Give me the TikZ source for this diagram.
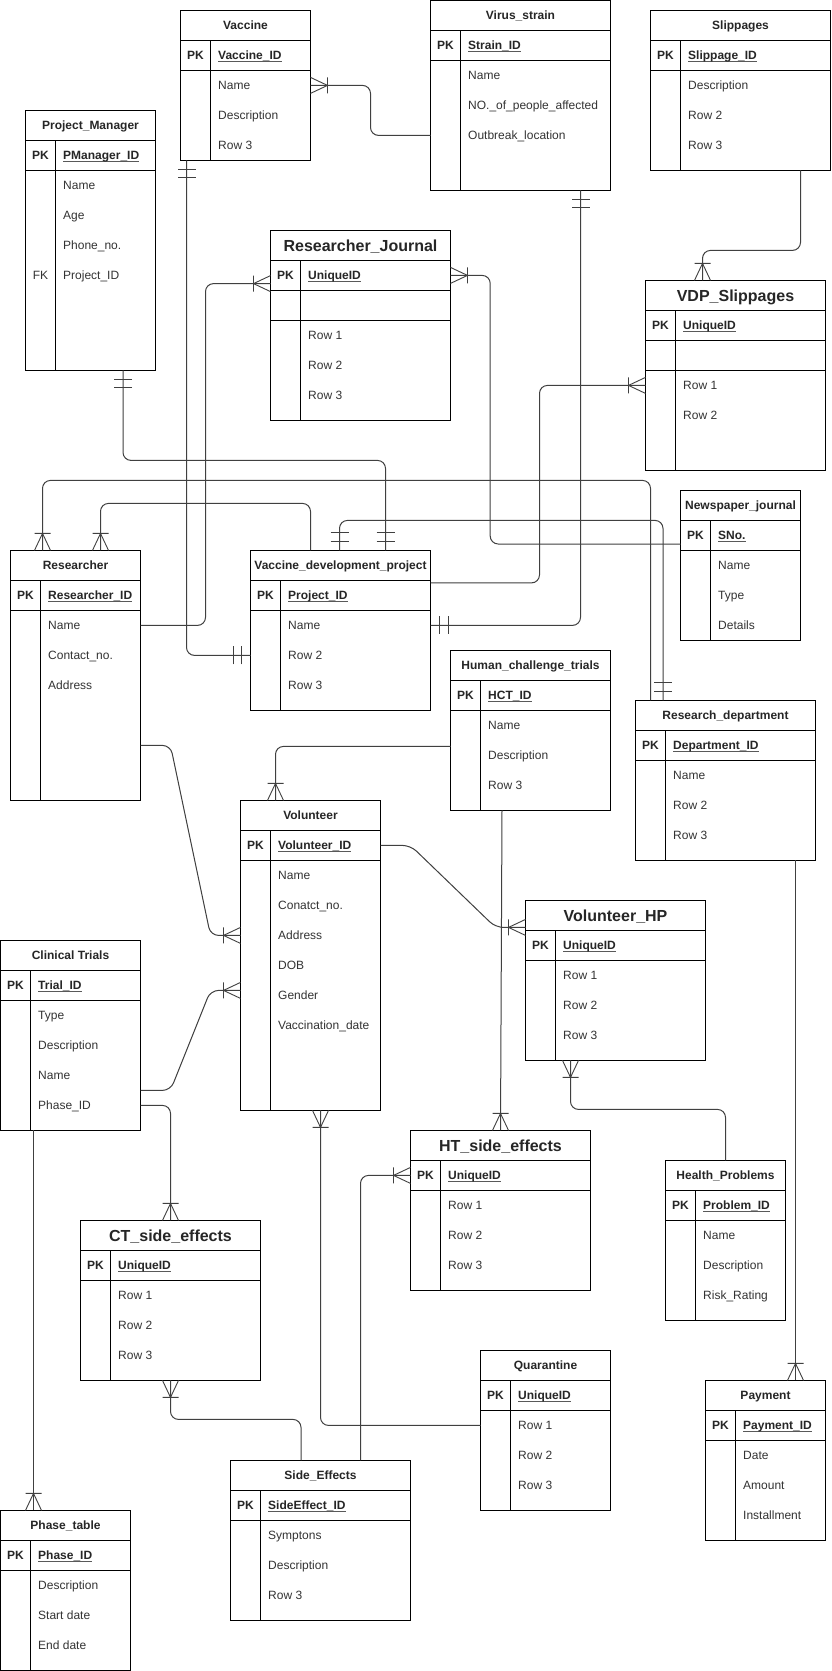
\documentclass[tikz,border=0pt]{standalone}
\usepackage{fontspec}
\setmainfont{Liberation Sans}
\usetikzlibrary{calc}
\definecolor{linec}{gray}{0.25}
\definecolor{txtc}{gray}{0.15}
\tikzset{
  tbox/.style={draw=black,line width=1pt,fill=white,inner sep=0pt,outer sep=0pt,anchor=north west},
  sep/.style={draw=black,line width=1pt},
  conn/.style={draw=linec,line width=1pt,rounded corners=8pt},
  tick/.style={draw=linec,line width=0.9pt},
  ttl/.style={inner sep=0pt,font=\fontsize{12}{14}\selectfont\bfseries,text height=9pt,text depth=0pt,text=txtc},
  bigttl/.style={inner sep=0pt,font=\fontsize{16}{18}\selectfont\bfseries,text height=12pt,text depth=0pt,text=txtc},
  keytxt/.style={inner sep=0pt,anchor=center,font=\fontsize{12}{14}\selectfont\bfseries,text height=9pt,text depth=0pt,text=txtc},
  pktxt/.style={inner sep=0pt,anchor=west,font=\fontsize{12}{14}\selectfont\bfseries,text height=9pt,text depth=0pt,text=txtc},
  rowtxt/.style={inner sep=0pt,anchor=west,font=\fontsize{12}{14}\selectfont,text height=9pt,text depth=0pt,text=black!80},
}
\newsavebox{\ulbox}
\newcommand{\ulin}[1]{\sbox{\ulbox}{#1}\rlap{\textcolor{black!65}{\rule[-1.6pt]{\wd\ulbox}{0.9pt}}}\usebox{\ulbox}}
% #1 id, #2 x, #3 y, #4 w, #5 h, #6 title style, #7 title, #8 pk text, #9 rows
\newcommand{\tbl}[9]{%
  \node[tbox,minimum width=#4pt,minimum height=#5pt] (#1) at (#2,#3) {};
  \node[#6] (#1-t) at ($(#1.north)+(0,15)$) {#7};
  \draw[sep] ($(#1.north west)+(0,30)$) -- ($(#1.north east)+(0,30)$);
  \draw[sep] ($(#1.north west)+(0,60)$) -- ($(#1.north east)+(0,60)$);
  \draw[sep] ($(#1.north west)+(30,30)$) -- ($(#1.south west)+(30,0)$);
  \node[keytxt] (#1-pk) at ($(#1.north west)+(15,45)$) {PK};
  \node[pktxt] (#1-id) at ($(#1.north west)+(37.5,45)$) {\ulin{#8}};
  \foreach \r [count=\i from 0] in {#9} {
    \pgfmathsetmacro{\ry}{75+30*\i+\tblskip}
    \node[rowtxt] (#1-\i) at ($(#1.north west)+(37.5,\ry)$) {\r};
  }
}
\newcommand{\tblskip}{0}
\newcommand{\crow}[2]{\begin{scope}[shift={(#1)},rotate=#2]
  \draw[tick] (17,-8) -- (17,8) (0,-8) -- (17,0) -- (0,8);\end{scope}}
\newcommand{\bars}[2]{\begin{scope}[shift={(#1)},rotate=#2]
  \draw[tick] (9,-9) -- (9,9) (17.5,-9) -- (17.5,9);\end{scope}}
\begin{document}
\begin{tikzpicture}[x=1pt,y=-1pt]
\useasboundingbox (0,0) rectangle (831,1671);
\fill[white] (0,0) rectangle (831,1671);
% tables
\tbl{vaccine}{180.5}{10.4}{130}{150}{ttl}{Vaccine}{Vaccine\_ID}{Name,Description,Row 3}
\tbl{virus}{430.5}{0.4}{180}{190}{ttl}{Virus\_strain}{Strain\_ID}{Name,NO.\_of\_people\_affected,Outbreak\_location}
\tbl{slip}{650.5}{10.4}{180}{160}{ttl}{Slippages}{Slippage\_ID}{Description,Row 2,Row 3}
\tbl{pm}{25.5}{110.4}{130}{260}{ttl}{Project\_Manager}{PManager\_ID}{Name,Age,Phone\_no.,Project\_ID}
\node[rowtxt,anchor=center] (pm-fk) at ($(pm.north west)+(15,165)$) {FK};
\renewcommand{\tblskip}{30}
\tbl{rj}{270.5}{230.4}{180}{190}{bigttl}{Researcher\_Journal}{UniqueID}{Row 1,Row 2,Row 3}
\draw[sep] ($(rj.north west)+(0,90)$) -- ($(rj.north east)+(0,90)$);
\tbl{vdp}{645.5}{280.4}{180}{190}{bigttl}{VDP\_Slippages}{UniqueID}{Row 1,Row 2}
\draw[sep] ($(vdp.north west)+(0,90)$) -- ($(vdp.north east)+(0,90)$);
\renewcommand{\tblskip}{0}
\tbl{news}{680.5}{490.4}{120}{150}{ttl}{Newspaper\_journal}{SNo.}{Name,Type,Details}
\tbl{res}{10.5}{550.4}{130}{250}{ttl}{Researcher}{Researcher\_ID}{Name,Contact\_no.,Address}
\tbl{vdev}{250.5}{550.4}{180}{160}{ttl}{Vaccine\_development\_project}{Project\_ID}{Name,Row 2,Row 3}
\tbl{hct}{450.5}{650.4}{160}{160}{ttl}{Human\_challenge\_trials}{HCT\_ID}{Name,Description,Row 3}
\tbl{dept}{635.5}{700.4}{180}{160}{ttl}{Research\_department}{Department\_ID}{Name,Row 2,Row 3}
\tbl{vol}{240.5}{800.4}{140}{310}{ttl}{Volunteer}{Volunteer\_ID}{Name,Conatct\_no.,Address,DOB,Gender,Vaccination\_date}
\tbl{vhp}{525.5}{900.4}{180}{160}{bigttl}{Volunteer\_HP}{UniqueID}{Row 1,Row 2,Row 3}
\tbl{clin}{0.5}{940.4}{140}{190}{ttl}{Clinical Trials}{Trial\_ID}{Type,Description,Name,Phase\_ID}
\tbl{ht}{410.5}{1130.4}{180}{160}{bigttl}{HT\_side\_effects}{UniqueID}{Row 1,Row 2,Row 3}
\tbl{health}{665.5}{1160.4}{120}{160}{ttl}{Health\_Problems}{Problem\_ID}{Name,Description,Risk\_Rating}
\tbl{ct}{80.5}{1220.4}{180}{160}{bigttl}{CT\_side\_effects}{UniqueID}{Row 1,Row 2,Row 3}
\tbl{quar}{480.5}{1350.4}{130}{160}{ttl}{Quarantine}{UniqueID}{Row 1,Row 2,Row 3}
\tbl{pay}{705.5}{1380.4}{120}{160}{ttl}{Payment}{Payment\_ID}{Date,Amount,Installment}
\tbl{side}{230.5}{1460.4}{180}{160}{ttl}{Side\_Effects}{SideEffect\_ID}{Symptons,Description,Row 3}
\tbl{phase}{0.5}{1510.4}{130}{160}{ttl}{Phase\_table}{Phase\_ID}{Description,Start date,End date}
% connectors
% vaccine - virus
\coordinate (a1) at ($(vaccine.north east)+(0,75)$);
\coordinate (b1) at ($(virus.north west)+(0,135)$);
\draw[conn] (a1) -| ($(a1)!.5!(b1)$) |- (b1);
\crow{a1}{0}
% virus - vdev
\coordinate (a2) at ($(virus.south west)+(150,0)$);
\coordinate (b2) at ($(vdev.north east)+(0,75)$);
\draw[conn] (a2) |- (b2);
\bars{a2}{-90}
\bars{b2}{0}
% slippages - vdp
\coordinate (a3) at ($(slip.south west)+(150,0)$);
\coordinate (b3) at ($(vdp.north west)+(57,0)$);
\draw[conn] (a3) |- ($(b3)+(0,-30)$) -- (b3);
\crow{b3}{90}
% pm - vdev
\coordinate (a4) at ($(pm.south west)+(97.5,0)$);
\coordinate (b4) at ($(vdev.north west)+(135,0)$);
\draw[conn] (a4) |- ($(b4)+(0,-90)$) -- (b4);
\bars{a4}{-90}
\bars{b4}{90}
% researcher - dept
\coordinate (a5) at ($(res.north west)+(32,0)$);
\coordinate (b5) at ($(dept.north west)+(15,0)$);
\draw[conn] (a5) |- ($(b5)+(0,-220)$) -- (b5);
\crow{a5}{90}
% vdev - researcher
\coordinate (a6) at ($(vdev.north west)+(60,0)$);
\coordinate (b6) at ($(res.north west)+(90,0)$);
\draw[conn] (a6) |- ($(b6)+(0,-47)$) -- (b6);
\crow{b6}{90}
% vdev - dept
\coordinate (a7) at ($(vdev.north west)+(89,0)$);
\coordinate (b7) at ($(dept.north west)+(27.5,0)$);
\draw[conn] (a7) |- ($(b7)+(0,-180)$) -- (b7);
\bars{a7}{90}
\bars{b7}{90}
% newspaper - rj
\coordinate (a8) at ($(news.north west)+(0,53.6)$);
\coordinate (b8) at ($(rj.north east)+(0,45)$);
\draw[conn] (a8) -| ($(b8)+(39.7,0)$) -- (b8);
\crow{b8}{0}
% researcher - rj
\coordinate (a9) at ($(res.north east)+(0,75)$);
\coordinate (b9) at ($(rj.north west)+(0,53.2)$);
\draw[conn] (a9) -| ($(b9)+(-65,0)$) -- (b9);
\crow{b9}{180}
% vaccine - vdev
\coordinate (a10) at ($(vaccine.south west)+(6,0)$);
\coordinate (b10) at ($(vdev.north west)+(0,105)$);
\draw[conn] (a10) |- (b10);
\bars{a10}{-90}
\bars{b10}{180}
% vdev - vdp
\coordinate (a11) at ($(vdev.north east)+(0,32.5)$);
\coordinate (b11) at ($(vdp.north west)+(0,105)$);
\draw[conn] (a11) -- ($(a11)+(109,0)$) |- (b11);
\crow{b11}{180}
% researcher - volunteer
\coordinate (a12) at ($(res.north east)+(0,195)$);
\coordinate (b12) at ($(vol.north west)+(0,135)$);
\draw[conn] (a12) -- ($(a12)+(30,0)$) -- ($(b12)+(-30,0)$) -- (b12);
\crow{b12}{180}
% clinical - volunteer
\coordinate (a13) at ($(clin.north east)+(0,150)$);
\coordinate (b13) at ($(vol.north west)+(0,190)$);
\draw[conn] (a13) -- ($(a13)+(30,0)$) -- ($(b13)+(-30,0)$) -- (b13);
\crow{b13}{180}
% clinical - ct
\coordinate (a14) at ($(clin.north east)+(0,165)$);
\coordinate (b14) at ($(ct.north west)+(90,0)$);
\draw[conn] (a14) -| (b14);
\crow{b14}{90}
% clinical - phase
\coordinate (a15) at ($(clin.south west)+(33,0)$);
\coordinate (b15) at ($(phase.north west)+(33,0)$);
\draw[conn] (a15) -- (b15);
\crow{b15}{90}
% hct - volunteer
\coordinate (a16) at ($(hct.north west)+(0,96)$);
\coordinate (b16) at ($(vol.north west)+(35,0)$);
\draw[conn] (a16) -| (b16);
\crow{b16}{90}
% hct - ht
\coordinate (a17) at ($(hct.south west)+(51.5,0)$);
\coordinate (b17) at ($(ht.north)+(0,0)$);
\draw[conn] (a17) -- (b17);
\crow{b17}{90}
% volunteer - vhp
\coordinate (a18) at ($(vol.north east)+(0,45)$);
\coordinate (b18) at ($(vhp.north west)+(0,27)$);
\draw[conn] (a18) -- ($(a18)+(30,0)$) -- ($(b18)+(-30,0)$) -- (b18);
\crow{b18}{180}
% vhp - health
\coordinate (a19) at ($(vhp.south west)+(45,0)$);
\coordinate (b19) at ($(health.north)$);
\draw[conn] (a19) |- ($(b19)+(0,-51)$) -- (b19);
\crow{a19}{-90}
% dept - payment
\coordinate (a20) at ($(dept.south west)+(160,0)$);
\coordinate (b20) at ($(pay.north west)+(90,0)$);
\draw[conn] (a20) -- (b20);
\crow{b20}{90}
% volunteer - quarantine
\coordinate (a21) at ($(vol.south west)+(80,0)$);
\coordinate (b21) at ($(quar.north west)+(0,75)$);
\draw[conn] (a21) |- (b21);
\crow{a21}{-90}
% side - ht
\coordinate (a22) at ($(side.north west)+(130,0)$);
\coordinate (b22) at ($(ht.north west)+(0,45)$);
\draw[conn] (a22) |- (b22);
\crow{b22}{180}
% side - ct
\coordinate (a23) at ($(side.north west)+(70.5,0)$);
\coordinate (b23) at ($(ct.south west)+(90,0)$);
\draw[conn] (a23) |- ($(b23)+(0,39)$) -- (b23);
\crow{b23}{-90}
\end{tikzpicture}
\end{document}
